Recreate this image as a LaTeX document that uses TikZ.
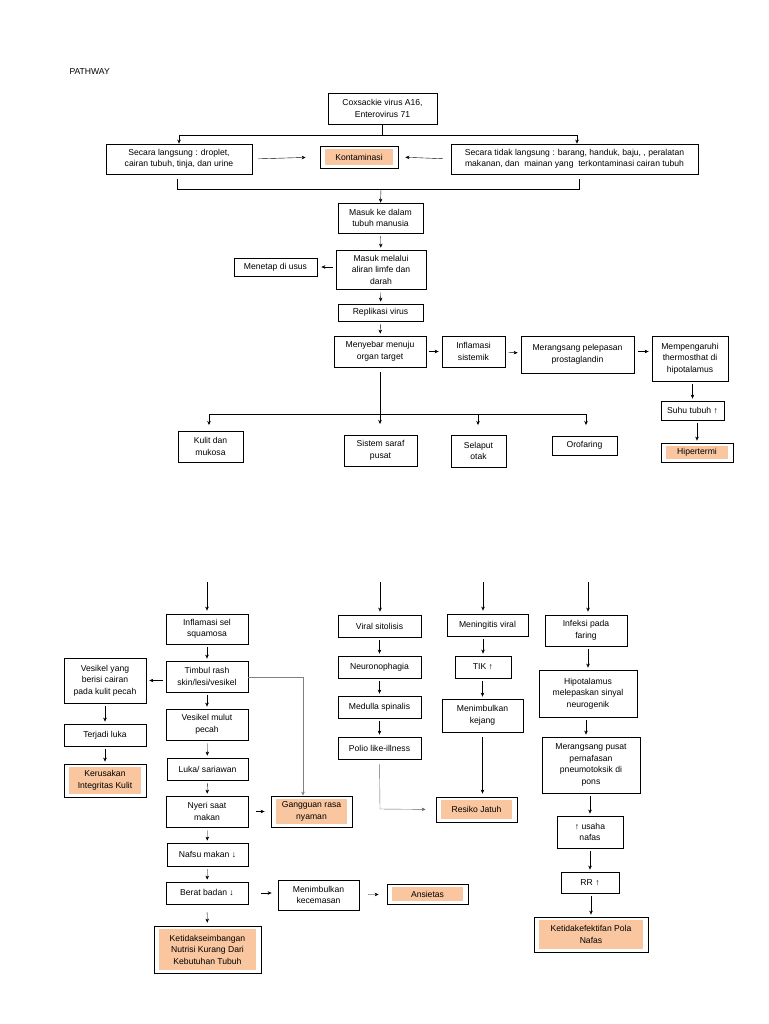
\documentclass[tikz,border=0pt]{standalone}
\usepackage{fontspec}
\setmainfont{Liberation Sans}
\usetikzlibrary{arrows.meta}
\definecolor{hlc}{RGB}{249,198,160}
\tikzset{
 box/.style={draw, thick, inner sep=1pt, align=center, font=\fontsize{8.6}{11.5}\selectfont},
 hl/.style={path picture={\fill[hlc] ([xshift=5pt,yshift=-3pt]path picture bounding box.north west) rectangle ([xshift=-5pt,yshift=3pt]path picture bounding box.south east);}},
 ar/.style={-{Stealth[length=4pt,width=3.5pt]}, thin},
 ln/.style={thin},
 va/.style={ar, shorten <=3pt, shorten >=2pt},
}
\newcommand\bx[7][]{\node[box,#1,minimum width=#5pt,minimum height=#6pt] (#2) at (#3,#4) {#7};}
\begin{document}
\begin{tikzpicture}[x=1pt,y=-1pt]
\useasboundingbox (0,0) rectangle (768,1024);
\node[anchor=west,font=\fontsize{8.6}{10}\selectfont] (pw) at (66,72) {PATHWAY};
% top
\bx{cox}{382.5}{108.5}{109}{31}{Coxsackie virus A16,\\Enterovirus 71}
\bx{sl}{179}{159}{146}{30}{Secara langsung : droplet,\\cairan tubuh, tinja, dan urine}
\bx[hl]{kont}{359}{157}{78}{22}{Kontaminasi}
\bx{stl}{574.5}{159}{247}{30}{Secara tidak langsung : barang, handuk, baju, , peralatan\\makanan, dan \ mainan yang \ terkontaminasi cairan tubuh}
\bx{m1}{380.5}{218}{85}{30}{Masuk ke dalam\\tubuh manusia}
\bx{m2}{381}{269.5}{90}{39}{Masuk melalui\\aliran limfe dan\\darah}
\bx{men}{275.5}{267}{83}{18}{Menetap di usus}
\bx{rep}{380.5}{312.5}{85}{17}{Replikasi virus}
\bx{nyb}{380}{351.5}{92}{31}{Menyebar menuju\\organ target}
\bx{ins}{473.5}{351.5}{63}{31}{Inflamasi\\sistemik}
\bx{mpp}{577.5}{354.5}{113}{37}{Merangsang pelepasan\\prostaglandin}
\bx{mth}{690}{358.5}{76}{45}{Mempengaruhi\\thermosthat di\\hipotalamus}
\bx{suhu}{692.5}{410.5}{63}{19}{Suhu tubuh ↑}
\bx[hl]{hip}{697}{452.5}{72}{19}{Hipertermi}
\bx{kul}{210.5}{446.5}{65}{31}{Kulit dan\\mukosa}
\bx{sss}{380.5}{450.5}{73}{31}{Sistem saraf\\pusat}
\bx{sel}{478.5}{451}{55}{32}{Selaput\\otak}
\bx{oro}{584.5}{445.5}{65}{19}{Orofaring}
% top connectors
\coordinate (t1) at (382.5,135); \coordinate (tl) at (179,135); \coordinate (tr) at (577,135);
\draw[ln] (cox.south) -- (t1);
\draw[ln] (tl) -- (tr);
\draw[ar] (tl) -- (sl.north);
\draw[ar] (tr) -- (tr|-stl.north);
\draw[ar, shorten <=6pt, shorten >=14pt] (sl.east) -- (kont.west);
\draw[ar, shorten <=8pt, shorten >=7pt] (stl.west) -- (kont.east);
\coordinate (bl) at (177,189); \coordinate (br) at (579,189); \coordinate (bm) at (381,189);
\draw[ln] (177,179) -- (bl) -- (br) -- (579,179);
\draw[ar] (bm) -- (m1.north);
\draw[va] (m1) -- (m2);
\draw[ar, shorten <=3pt, shorten >=4pt] (m2.west|-men) -- (men.east);
\draw[va] (m2) -- (rep);
\draw[va] (rep) -- (nyb);
\draw[ar, shorten <=3pt, shorten >=3pt] (nyb) -- (ins);
\draw[ar, shorten <=3pt, shorten >=3pt] (ins) -- (mpp);
\draw[ar, shorten <=4pt, shorten >=3pt] (mpp.east|-nyb) -- (mth.west|-nyb);
\draw[va] (mth.south-|suhu) -- (suhu);
\draw[va] (suhu.south-|hip) -- (hip);
\coordinate (hL) at (209,414); \coordinate (hR) at (586,414); \coordinate (hM) at (381,414); \coordinate (hS) at (478,414);
\draw[ln] (380,372) -- (380,414);
\draw[ln] (hL) -- (hR);
\draw[ar] (hL) -- (209,425);
\draw[ar] (380,414) -- (380,424);
\draw[ar] (hS) -- (478,425);
\draw[ar] (hR) -- (586,425);
% bottom
\bx{isq}{207}{629}{82}{30}{Inflamasi sel\\squamosa}
\bx{tim}{207}{676.5}{82}{31}{Timbul rash\\skin/lesi/vesikel}
\bx{vy}{105}{680.5}{82}{45}{Vesikel yang\\berisi cairan\\pada kulit pecah}
\bx{vm}{207}{724.5}{82}{31}{Vesikel mulut\\pecah}
\bx{luka}{207.5}{769}{81}{22}{Luka/ sariawan}
\bx{nye}{207}{811.5}{82}{31}{Nyeri saat\\makan}
\bx{naf}{207.5}{854.5}{81}{23}{Nafsu makan ↓}
\bx{ber}{207}{893}{82}{22}{Berat badan ↓}
\bx[hl]{kts}{207.5}{949.5}{107}{47}{Ketidakseimbangan\\Nutrisi Kurang Dari\\Kebutuhan Tubuh}
\bx{tl2}{105}{735}{82}{22}{Terjadi luka}
\bx[hl]{kik}{105}{780.5}{82}{33}{Kerusakan\\Integritas Kulit}
\bx[hl]{gan}{311.5}{811.5}{81}{31}{Gangguan rasa\\nyaman}
\bx{mkc}{318.5}{895}{81}{30}{Menimbulkan\\kecemasan}
\bx[hl]{ans}{427.5}{894}{81}{20}{Ansietas}
\bx{vs}{379.5}{626}{83}{22}{Viral sitolisis}
\bx{neu}{379.5}{667}{83}{22}{Neuronophagia}
\bx{med}{379.5}{707}{83}{22}{Medulla spinalis}
\bx{pol}{379.5}{748}{83}{22}{Polio like-illness}
\bx{mv}{487.5}{625}{81}{22}{Meningitis viral}
\bx{tik}{483}{667}{56}{22}{TIK ↑}
\bx{kej}{482.5}{715.5}{81}{33}{Menimbulkan\\kejang}
\bx[hl]{res}{476.5}{809.5}{81}{25}{Resiko Jatuh}
\bx{inf}{586}{630.5}{82}{31}{Infeksi pada\\faring}
\bx{hpt}{588}{693.5}{98}{47}{Hipotalamus\\melepaskan sinyal\\neurogenik}
\bx{mps}{591}{765}{98}{56}{Merangsang pusat\\pernafasan\\pneumotoksik di\\pons}
\bx{usa}{590}{832}{66}{32}{↑ usaha\\nafas}
\bx{rr}{590}{882.5}{58}{21}{RR ↑}
\bx[hl]{kef}{591}{934.5}{114}{35}{Ketidakefektifan Pola\\Nafas}
% bottom connectors
\coordinate (s1) at (207,582); \coordinate (s2) at (380,582); \coordinate (s3) at (483,582); \coordinate (s4) at (588,582);
\draw[ar, shorten >=3pt] (s1) -- (isq.north);
\draw[ar, shorten >=3pt] (s2) -- (s2|-vs.north);
\draw[ar, shorten >=3pt] (s3) -- (s3|-mv.north);
\draw[ar, shorten >=3pt] (s4) -- (s4|-inf.north);
\draw[va] (isq) -- (tim);
\draw[va] (tim) -- (vm);
\draw[va] (vm) -- (luka);
\draw[va] (luka) -- (nye);
\draw[va] (nye) -- (naf);
\draw[va] (naf) -- (ber);
\draw[ar, shorten <=8pt, shorten >=3pt] (ber) -- (kts);
\draw[ar, shorten <=3pt, shorten >=3pt] (tim.west|-vy) -- (vy.east);
\draw[va] (vy) -- (tl2);
\draw[va] (tl2) -- (kik);
\draw[ar, shorten <=8pt, shorten >=6pt] (nye) -- (gan);
\draw[ar, shorten <=13pt, shorten >=6pt] (ber.east) -- (mkc.west|-ber);
\draw[ar, shorten <=9pt, shorten >=8pt] (mkc) -- (ans);
\coordinate (gc) at (303,677);
\draw[ar, gray] (tim.east|-gc) -- (gc) -- (gc|-gan.north);
\draw[va] (vs) -- (neu);
\draw[va] (neu) -- (med);
\draw[va] (med) -- (pol);
\coordinate (pc) at (380,809);
\draw[ar, gray!80!black, shorten <=5pt, shorten >=10pt] (pol.south) -- (pc) -- (res.west);
\draw[va] (mv.south-|tik) -- (tik);
\draw[va] (tik.south-|kej) -- (kej);
\draw[ar, shorten <=5pt, shorten >=3pt] (kej) -- (kej|-res.north);
\draw[va] (inf.south-|hpt) -- (hpt);
\draw[va] (hpt.south-|inf) -- (inf|-mps.north);
\draw[va] (mps.south-|usa) -- (usa);
\draw[va] (usa) -- (rr);
\draw[va] (rr.south-|kef) -- (kef);
\end{tikzpicture}
\end{document}
